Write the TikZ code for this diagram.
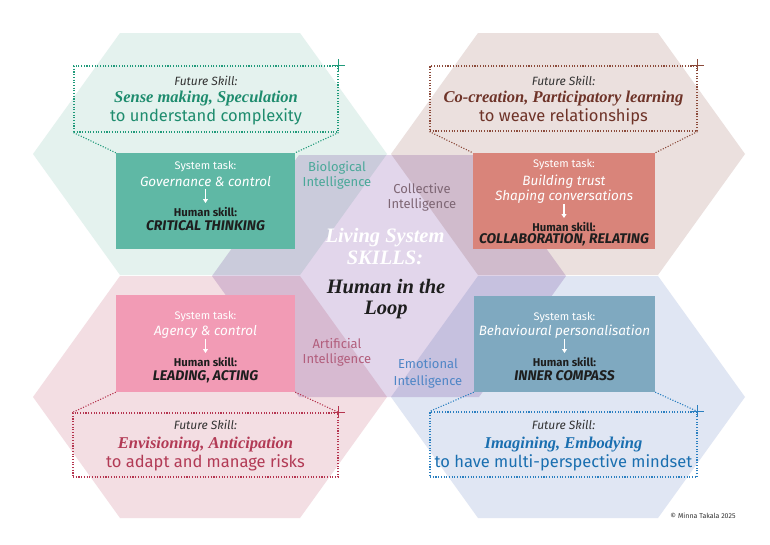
\documentclass[tikz,border=0pt]{standalone}
\usepackage{fontspec}
\setmainfont{Fira Sans}
\newfontfamily\deco{Liberation Serif}
\usetikzlibrary{arrows.meta}
\definecolor{hexTL}{HTML}{E4F2EE}
\definecolor{hexTR}{HTML}{EBE0DE}
\definecolor{hexBL}{HTML}{F3DEE3}
\definecolor{hexBR}{HTML}{E0E6F3}
\definecolor{hexC}{HTML}{E2D6EB}
\definecolor{recTL}{HTML}{5FB8A5}
\definecolor{recTR}{HTML}{D9847A}
\definecolor{recBL}{HTML}{F29BB5}
\definecolor{recBR}{HTML}{7FA9C0}
\definecolor{colTL}{HTML}{1E8C6E}
\definecolor{colTR}{HTML}{6E3328}
\definecolor{colBL}{HTML}{B23A55}
\definecolor{colBR}{HTML}{1A6FB0}
\definecolor{dotTL}{HTML}{1F9A7A}
\definecolor{dotTR}{HTML}{8B4A3A}
\definecolor{dotBL}{HTML}{B5344F}
\definecolor{dotBR}{HTML}{2A7FC0}
\definecolor{ink}{HTML}{1E1E1E}
\definecolor{futgray}{HTML}{333333}
\definecolor{labBio}{HTML}{4AA899}
\definecolor{labCol}{HTML}{7E6674}
\definecolor{labArt}{HTML}{B25E7C}
\definecolor{labEmo}{HTML}{4F86C6}
\newcommand\hexshape[2]{(#1-90,#2-121) -- (#1+90,#2-121) -- (#1+177,#2) -- (#1+90,#2+121) -- (#1-90,#2+121) -- (#1-177,#2) -- cycle}
\tikzset{
  lbl/.style={inner sep=0pt, align=center},
  fut/.style={lbl, font=\fontsize{12}{13}\selectfont\itshape, text=futgray},
  ttl/.style={lbl, font=\fontsize{16.5}{18}\selectfont\deco\bfseries\itshape},
  sub/.style={lbl, font=\fontsize{16.5}{18}\selectfont},
  dotbox/.style={draw, inner sep=0pt, line width=1.1pt, dash pattern=on 1.1pt off 1.6pt},
  dotline/.style={line width=1.1pt, dash pattern=on 1.1pt off 1.6pt},
  plus/.style={line width=1.5pt},
  recbox/.style={inner sep=0pt, draw=none},
  sys/.style={lbl, font=\fontsize{11}{12}\selectfont, text=white},
  tsk/.style={lbl, font=\fontsize{13.5}{15}\selectfont\itshape, text=white},
  hum/.style={lbl, font=\fontsize{11.3}{12}\selectfont\bfseries, text=ink},
  skl/.style={lbl, font=\fontsize{14}{15}\selectfont\bfseries\itshape, text=ink},
  downarrow/.style={white, line width=1.3pt, -{Triangle[length=4pt,width=5pt]}},
  intel/.style={lbl, font=\fontsize{13}{15}\selectfont},
  cent/.style={lbl, font=\fontsize{20.5}{22}\selectfont\deco\bfseries\itshape}
}
\begin{document}
\begin{tikzpicture}[x=1pt,y=-1pt]
\useasboundingbox (0,0) rectangle (770,544);
\fill[white] (0,0) rectangle (770,544);
% hexagons
\begin{scope}[blend mode=multiply]
\fill[hexTL] \hexshape{210}{154};
\fill[hexTR] \hexshape{568}{154};
\fill[hexBL] \hexshape{210}{397};
\fill[hexBR] \hexshape{568}{397};
\fill[hexC] \hexshape{389}{276};
\end{scope}
% system rectangles
\node[recbox, fill=recTL, minimum width=179pt, minimum height=96pt] (rTL) at (205.5,201) {};
\node[recbox, fill=recTR, minimum width=182pt, minimum height=96pt] (rTR) at (564,201) {};
\node[recbox, fill=recBL, minimum width=179pt, minimum height=97pt] (rBL) at (205.5,343.5) {};
\node[recbox, fill=recBR, minimum width=181pt, minimum height=96pt] (rBR) at (564.5,344) {};
% future skill boxes
\node[dotbox, draw=dotTL, minimum width=264pt, minimum height=66pt] (fTL) at (206,99) {};
\node[dotbox, draw=dotTR, minimum width=267pt, minimum height=65pt] (fTR) at (563.5,98.5) {};
\node[dotbox, draw=dotBL, minimum width=265pt, minimum height=64pt] (fBL) at (205.5,445) {};
\node[dotbox, draw=dotBR, minimum width=267pt, minimum height=65pt] (fBR) at (563.5,444.5) {};
% diagonal dotted connectors
\draw[dotline, dotTL] (fTL.south west) -- (rTL.north west) (fTL.south east) -- (rTL.north east);
\draw[dotline, dotTR] (fTR.south west) -- (rTR.north west) (fTR.south east) -- (rTR.north east);
\draw[dotline, dotBL] (rBL.south west) -- (fBL.north west) (rBL.south east) -- (fBL.north east);
\draw[dotline, dotBR] (rBR.south west) -- (fBR.north west) (rBR.south east) -- (fBR.north east);
% plus signs
\draw[plus, dotTL] (fTL.north east) +(-6,0) -- +(6,0) (fTL.north east) +(0,-6) -- +(0,6);
\draw[plus, dotTR] (fTR.north east) +(-6,0) -- +(6,0) (fTR.north east) +(0,-6) -- +(0,6);
\draw[plus, dotBL] (fBL.north east) +(-6,0) -- +(6,0) (fBL.north east) +(0,-6) -- +(0,6);
\draw[plus, dotBR] (fBR.north east) +(-6,0) -- +(6,0) (fBR.north east) +(0,-6) -- +(0,6);
% future skill texts
\node[fut] (fTL1) at (206,81) {Future Skill:};
\node[ttl, text=colTL] (fTL2) at (206,98.5) {Sense making, Speculation};
\node[sub, text=colTL] (fTL3) at (206,117) {to understand complexity};
\node[fut] (fTR1) at (563.5,81) {Future Skill:};
\node[ttl, text=colTR] (fTR2) at (563.5,99) {Co-creation, Participatory learning};
\node[sub, text=colTR] (fTR3) at (563.5,117) {to weave relationships};
\node[fut] (fBL1) at (205.5,425) {Future Skill:};
\node[ttl, text=colBL] (fBL2) at (205.5,444.5) {Envisioning, Anticipation};
\node[sub, text=colBL] (fBL3) at (205.5,463) {to adapt and manage risks};
\node[fut] (fBR1) at (563.5,425) {Future Skill:};
\node[ttl, text=colBR] (fBR2) at (563.5,444.5) {Imagining, Embodying};
\node[sub, text=colBR] (fBR3) at (563.5,463) {to have multi-perspective mindset};
% rect texts TL
\node[sys] (sTL1) at (205.5,167) {System task:};
\node[tsk] (sTL2) at (205.5,182) {Governance \& control};
\coordinate (aTL1) at (205.5,189);
\coordinate (aTL2) at (205.5,203);
\draw[downarrow] (aTL1) -- (aTL2);
\node[hum] (sTL3) at (205.5,212) {Human skill:};
\node[skl] (sTL4) at (205.5,226) {CRITICAL THINKING};
% rect texts TR
\node[sys] (sTR1) at (564,165) {System task:};
\node[tsk] (sTR2) at (564,182) {Building trust};
\node[tsk] (sTR3) at (564,197) {Shaping conversations};
\coordinate (aTR1) at (564,204);
\coordinate (aTR2) at (564,218);
\draw[downarrow] (aTR1) -- (aTR2);
\node[hum] (sTR4) at (564,227) {Human skill:};
\node[skl] (sTR5) at (564,240) {COLLABORATION, RELATING};
% rect texts BL
\node[sys] (sBL1) at (205.5,317) {System task:};
\node[tsk] (sBL2) at (205.5,332) {Agency \& control};
\coordinate (aBL1) at (205.5,339);
\coordinate (aBL2) at (205.5,353);
\draw[downarrow] (aBL1) -- (aBL2);
\node[hum] (sBL3) at (205.5,362) {Human skill:};
\node[skl] (sBL4) at (205.5,377) {LEADING{\upshape,} ACTING};
% rect texts BR
\node[sys] (sBR1) at (564.5,318) {System task:};
\node[tsk] (sBR2) at (564.5,332) {Behavioural personalisation};
\coordinate (aBR1) at (564.5,339);
\coordinate (aBR2) at (564.5,353);
\draw[downarrow] (aBR1) -- (aBR2);
\node[hum] (sBR3) at (564.5,362) {Human skill:};
\node[skl] (sBR4) at (564.5,376) {INNER COMPASS};
% intelligence labels
\node[intel, text=labBio] (iBio) at (337,175) {Biological\\Intelligence};
\node[intel, text=labCol] (iCol) at (422,197) {Collective\\Intelligence};
\node[intel, text=labArt] (iArt) at (337,352) {Artificial\\Intelligence};
\node[intel, text=labEmo] (iEmo) at (428,373) {Emotional\\[2pt]Intelligence};
% centre
\node[cent, text=white] (cLiv) at (385,238) {Living System};
\node[cent, text=white] (cSki) at (385,258) {SKILLS:};
\node[cent, text=ink] (cHum) at (386,287) {Human in the};
\node[cent, text=ink] (cLoo) at (386,310) {Loop};
% copyright
\node[lbl, font=\fontsize{7}{8}\selectfont, text=futgray] (copy) at (703,516) {\textcopyright\ Minna Takala 2025};
\end{tikzpicture}
\end{document}
